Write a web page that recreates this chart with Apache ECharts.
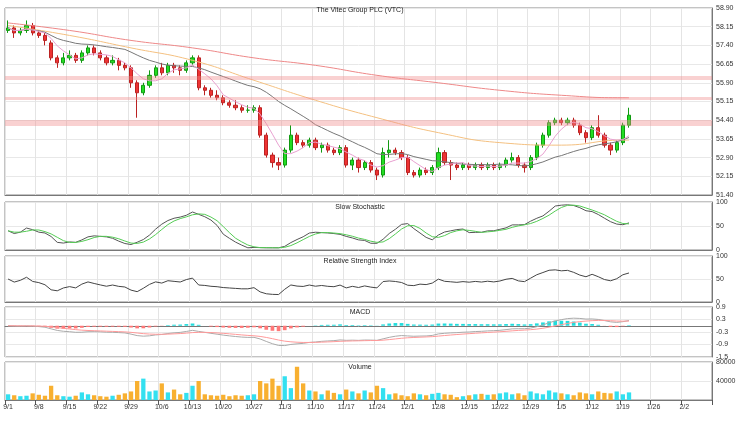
<!DOCTYPE html><html><head><meta charset="utf-8"><script src="https://cdn.jsdelivr.net/npm/echarts@6/dist/echarts.min.js"></script>
<style>body{margin:0;background:#fff}#c{width:750px;height:422px}</style></head><body><div id="c"></div><script>
// [open, close, low, high]
const candles=[[58.0,58.1,57.9,58.4],[58.1,57.9,57.7,58.2],[57.9,58.0,57.8,58.1],[58.0,58.2,57.9,58.4],[58.2,57.9,57.8,58.3],[57.9,57.8,57.7,58.0],[57.8,57.6,57.4,57.9],[57.5,56.9,56.8,57.6],[56.9,56.7,56.5,57.0],[56.7,56.9,56.6,57.1],[56.9,57.0,56.8,57.2],[57.0,56.8,56.7,57.1],[56.8,57.1,56.7,57.2],[57.1,57.3,57.0,57.4],[57.3,57.1,57.0,57.4],[57.1,56.9,56.8,57.2],[56.9,56.7,56.6,57.0],[56.7,56.8,56.6,57.0],[56.8,56.6,56.4,56.9],[56.6,56.5,56.4,56.7],[56.5,55.9,55.7,56.6],[55.9,55.5,54.5,56.0],[55.5,55.8,55.4,55.9],[55.8,56.2,55.7,56.4],[56.2,56.5,56.1,56.6],[56.5,56.3,56.2,56.7],[56.3,56.6,56.2,56.7],[56.6,56.5,56.3,56.7],[56.5,56.4,56.2,56.6],[56.4,56.7,56.3,56.8],[56.7,56.9,56.6,57.0],[56.9,55.7,55.6,57.0],[55.7,55.6,55.4,55.8],[55.6,55.4,55.3,55.7],[55.4,55.3,55.2,55.6],[55.3,55.1,55.0,55.4],[55.1,55.0,54.9,55.2],[55.0,54.9,54.8,55.2],[54.9,54.8,54.7,55.0],[54.8,54.8,54.7,55.0],[54.8,54.9,54.7,55.0],[54.9,53.8,53.7,55.0],[53.8,53.0,52.9,53.9],[53.0,52.7,52.5,53.1],[52.7,52.6,52.4,52.9],[52.6,53.2,52.5,53.3],[53.2,53.8,53.1,54.2],[53.8,53.5,53.4,53.9],[53.5,53.4,53.3,53.6],[53.4,53.6,53.3,53.7],[53.6,53.3,53.2,53.7],[53.3,53.4,53.1,53.5],[53.4,53.2,53.1,53.5],[53.2,53.1,53.0,53.3],[53.1,53.3,53.0,53.4],[53.3,52.6,52.5,53.4],[52.6,52.8,52.4,52.9],[52.8,52.5,52.3,52.9],[52.5,52.7,52.4,52.8],[52.7,52.4,52.3,52.8],[52.4,52.2,52.0,52.5],[52.2,53.1,52.1,53.3],[53.1,53.2,52.9,53.6],[53.2,53.1,53.0,53.3],[53.1,52.9,52.8,53.2],[52.9,52.3,52.2,53.0],[52.3,52.2,52.1,52.4],[52.2,52.4,52.1,52.5],[52.4,52.3,52.2,52.5],[52.3,52.5,52.2,52.6],[52.5,53.1,52.4,53.3],[53.1,52.7,52.6,53.2],[52.7,52.6,52.0,52.8],[52.6,52.5,52.4,52.7],[52.5,52.6,52.4,52.7],[52.6,52.5,52.4,52.7],[52.5,52.6,52.4,52.7],[52.6,52.5,52.4,52.7],[52.5,52.6,52.4,52.7],[52.6,52.5,52.4,52.7],[52.5,52.6,52.4,52.7],[52.6,52.8,52.5,52.9],[52.8,52.9,52.7,53.1],[52.9,52.6,52.5,53.0],[52.6,52.5,52.3,52.7],[52.5,52.9,52.4,53.0],[52.9,53.4,52.8,53.5],[53.4,53.8,53.3,53.9],[53.8,54.3,53.7,54.4],[54.3,54.4,54.2,54.5],[54.4,54.3,54.2,54.5],[54.3,54.4,54.2,54.5],[54.4,54.2,54.1,54.5],[54.2,53.9,53.8,54.3],[53.9,53.7,53.5,54.0],[53.7,54.1,53.6,54.2],[54.1,53.8,53.7,54.6],[53.8,53.4,53.3,53.9],[53.4,53.2,53.0,53.5],[53.2,53.5,53.1,53.6],[53.5,54.2,53.4,54.3],[54.2,54.6,54.1,54.9]];
const volumes=[12,10,8,9,14,11,9,30,10,8,7,9,16,12,10,8,7,9,11,14,18,40,45,18,20,35,16,22,12,15,30,40,12,10,9,11,8,10,9,10,12,40,35,45,30,50,25,70,35,20,18,12,20,15,12,22,18,14,20,16,30,25,12,14,10,8,14,12,10,13,15,12,11,6,8,10,12,13,11,12,14,16,12,14,10,18,14,12,20,16,14,12,10,16,14,12,18,15,14,18,12,16];
const maRed=[58.3,null,null,null,null,null,null,null,null,null,58.0,null,null,null,null,null,null,null,null,null,57.6,null,null,null,null,null,null,null,null,null,57.3,null,null,null,null,null,null,null,null,null,56.9,null,null,null,null,null,null,null,null,null,56.6,null,null,null,null,null,null,null,null,null,56.2,null,null,null,null,null,null,null,null,null,55.9,null,null,null,null,null,null,null,null,null,55.6,null,null,null,null,null,null,null,null,null,55.4,null,null,null,null,null,null,null,null,null,55.3,55.3];
const maOrange=[58.2,null,null,null,null,null,null,null,null,null,57.8,null,null,null,null,null,null,null,null,null,57.3,null,null,null,null,null,null,null,null,null,56.8,null,null,null,null,null,null,null,null,null,56.0,null,null,null,null,null,null,null,null,null,55.2,null,null,null,null,null,null,null,null,null,54.5,null,null,null,null,null,null,null,null,null,53.9,null,null,null,null,null,null,null,null,null,53.5,null,null,null,null,null,null,null,null,null,53.4,null,null,null,null,null,null,null,null,null,53.6,53.6];
const emptySlots=13;
const startDate=new Date(2023,8,1);
const cats=[];{let d=new Date(startDate);while(cats.length<candles.length+emptySlots){const w=d.getDay();if(w>0&&w<6)cats.push((d.getMonth()+1)+'/'+d.getDate());d.setDate(d.getDate()+1);}}
const closes=candles.map(c=>c[1]);
function sma(a,n){return a.map((v,i)=>{const s=a.slice(Math.max(0,i-n+1),i+1);return s.reduce((x,y)=>x+y,0)/s.length;});}
function ema(a,n){const k=2/(n+1);let e=a[0];return a.map(v=>e=v*k+e*(1-k));}
const ma20=sma(closes,20), ma5=sma(closes,5);
const rawK=candles.map((c,i)=>{const s=candles.slice(Math.max(0,i-13),i+1);const lo=Math.min(...s.map(x=>x[2])),hi=Math.max(...s.map(x=>x[3]));return hi>lo?100*(c[1]-lo)/(hi-lo):50;});
const stK=sma(rawK,5), stD=sma(stK,3);
const rsi=(()=>{let g=0.05,l=0.05;const n=14;return closes.map((c,i)=>{if(i==0)return 50;const d=c-closes[i-1];g=(g*(n-1)+Math.max(d,0))/n;l=(l*(n-1)+Math.max(-d,0))/n;return 100-100/(1+g/l);});})();
const m12=ema(closes,12),m26=ema(closes,26);const macd=m12.map((v,i)=>v-m26[i]);const sig=ema(macd,9);const hist=macd.map((v,i)=>v-sig[i]);
const grids=[{top:8,h:187},{top:202,h:48},{top:256,h:46},{top:307,h:50},{top:362,h:38}];
const f='Liberation Sans';
const ch=echarts.init(document.getElementById('c'));
const xAxes=grids.map((g,i)=>({type:'category',gridIndex:i,data:cats,boundaryGap:true,axisTick:{show:i==4,lineStyle:{color:'#555'}},axisLine:{lineStyle:{color:'#777'}},axisLabel:{show:i==4,fontSize:7,color:'#333',fontFamily:f,interval:4,margin:4},splitLine:{show:true,interval:4,lineStyle:{color:'#e4e4e4'}}}));
const yBase={position:'right',axisLine:{show:true,lineStyle:{color:'#777'}},axisTick:{show:false},axisLabel:{fontSize:7,color:'#333',fontFamily:f,margin:4},splitLine:{lineStyle:{color:'#e8e8e8'}}};
const yAxes=[Object.assign({},yBase,{gridIndex:0,min:51.4,max:58.9,interval:0.75,axisLabel:Object.assign({},yBase.axisLabel,{formatter:v=>v.toFixed(2)})}),
Object.assign({},yBase,{gridIndex:1,min:0,max:100,interval:50}),
Object.assign({},yBase,{gridIndex:2,min:0,max:100,interval:50}),
Object.assign({},yBase,{gridIndex:3,min:-1.5,max:0.9,interval:0.6,axisLabel:Object.assign({},yBase.axisLabel,{formatter:v=>v.toFixed(1)})}),
Object.assign({},yBase,{gridIndex:4,min:0,max:80,interval:40,axisLabel:Object.assign({},yBase.axisLabel,{formatter:v=>v?v*1000:''})})];
const band=(y,w)=>({yAxis:y,lineStyle:{color:'rgba(240,140,140,0.4)',width:w,type:'solid'},label:{show:false}});
ch.setOption({animation:false,
title:[['The Vitec Group PLC (VTC)',2],['Slow Stochastic',199],['Relative Strength Index',253],['MACD',304],['Volume',359]].map(t=>({text:t[0],left:355,top:t[1],textAlign:'center',textStyle:{fontSize:7,fontWeight:'normal',color:'#222',fontFamily:f}})),
grid:grids.map(g=>({left:5,right:38,top:g.top,height:g.h,borderColor:'#888',show:true})),
xAxis:xAxes,yAxis:yAxes,
series:[
{type:'candlestick',xAxisIndex:0,yAxisIndex:0,data:candles,barWidth:'60%',itemStyle:{color:'#22dd22',color0:'#ee3333',borderColor:'#119911',borderColor0:'#bb2222'},
 markLine:{symbol:'none',silent:true,data:[band(56.1,4),band(55.3,3),band(54.3,6)]}},
{type:'line',xAxisIndex:0,yAxisIndex:0,data:maRed,connectNulls:true,smooth:true,showSymbol:false,lineStyle:{color:'#e88',width:1}},
{type:'line',xAxisIndex:0,yAxisIndex:0,data:maOrange,connectNulls:true,smooth:true,showSymbol:false,lineStyle:{color:'#f4c080',width:1}},
{type:'line',xAxisIndex:0,yAxisIndex:0,data:ma20,showSymbol:false,lineStyle:{color:'#777',width:1}},
{type:'line',xAxisIndex:0,yAxisIndex:0,data:ma5,showSymbol:false,lineStyle:{color:'#e8a0d0',width:1}},
{type:'line',xAxisIndex:1,yAxisIndex:1,data:stK,showSymbol:false,lineStyle:{color:'#555',width:1}},
{type:'line',xAxisIndex:1,yAxisIndex:1,data:stD,showSymbol:false,lineStyle:{color:'#5c5',width:1}},
{type:'line',xAxisIndex:2,yAxisIndex:2,data:rsi,showSymbol:false,lineStyle:{color:'#444',width:1}},
{type:'bar',xAxisIndex:3,yAxisIndex:3,data:hist.map(v=>({value:v,itemStyle:{color:v>=0?'#22dddd':'#ff7777'}})),barWidth:'60%'},
{type:'line',xAxisIndex:3,yAxisIndex:3,data:macd,showSymbol:false,lineStyle:{color:'#aaa',width:1}},
{type:'line',xAxisIndex:3,yAxisIndex:3,data:sig,showSymbol:false,lineStyle:{color:'#f99',width:1}},
{type:'bar',xAxisIndex:4,yAxisIndex:4,data:volumes.map((v,i)=>({value:v,itemStyle:{color:candles[i][1]>=candles[i][0]?'#33e0f0':'#f8b030'}})),barWidth:'70%'}
]});
</script></body></html>
